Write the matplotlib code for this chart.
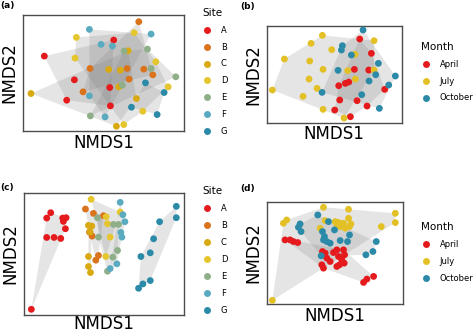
import matplotlib
matplotlib.use("Agg")
import matplotlib.pyplot as plt
from matplotlib.patches import Polygon
from matplotlib.lines import Line2D

# NMDS scores (arbitrary units)
site_a = {
    "A": [(1.34, -1.68), (2.24, -2.39), (2.01, -3.00), (3.42, -1.20), (3.30, -2.62), (3.32, -3.17)],
    "B": [(4.17, -0.65), (2.71, -2.05), (2.50, -2.75), (3.82, -2.05), (4.32, -2.07), (4.59, -2.24), (3.88, -2.37)],
    "C": [(0.94, -2.80), (3.27, -2.08), (3.62, -2.10), (3.57, -2.60), (4.10, -2.95), (3.50, -3.78), (3.85, -1.52)],
    "D": [(2.30, -1.12), (2.26, -1.74), (4.03, -0.98), (4.68, -1.85), (5.05, -2.60), (4.29, -3.33), (3.72, -3.73)],
    "E": [(2.72, -3.47), (3.73, -1.53), (4.43, -1.47), (4.54, -2.05), (5.28, -2.30), (3.68, -2.55)],
    "F": [(2.69, -0.88), (3.04, -1.33), (3.38, -1.38), (4.54, -1.02), (2.69, -2.87), (3.16, -3.50)],
    "G": [(4.37, -2.48), (4.93, -2.77), (3.95, -3.21), (4.72, -3.43)],
}

month_b = {
    "April": [(2.84, -0.51), (3.19, -0.94), (2.68, -1.42), (3.11, -1.44), (2.21, -1.91), (2.41, -1.84),
              (2.51, -1.80), (3.59, -2.02), (2.24, -2.34), (2.76, -2.36), (3.06, -2.52), (2.09, -2.64),
              (2.56, -2.84)],
    "July": [(1.72, -0.40), (1.38, -0.64), (0.58, -1.11), (2.00, -0.83), (1.34, -1.17), (1.74, -1.42),
             (1.32, -1.71), (0.22, -2.04), (1.14, -2.23), (1.56, -1.99), (1.74, -2.62), (2.37, -2.88),
             (3.27, -0.56), (2.70, -0.97), (2.48, -1.46), (2.71, -1.71), (3.27, -1.44)],
    "October": [(2.94, -0.24), (2.32, -0.71), (2.29, -0.84), (2.59, -0.99), (2.19, -1.45), (3.40, -1.24),
                (3.32, -1.58), (3.12, -1.77), (3.91, -1.62), (3.71, -1.89), (2.90, -2.18), (1.71, -2.11),
                (3.43, -2.59)],
}

site_c = {
    "A": [(1.40, -1.53), (1.52, -1.37), (1.88, -1.53), (1.98, -1.52), (1.90, -1.63), (1.96, -1.85),
          (1.40, -2.11), (1.62, -2.11), (1.82, -2.14), (0.94, -4.26)],
    "B": [(2.56, -1.26), (2.80, -1.39), (3.10, -1.46), (2.68, -1.95), (2.76, -2.07), (2.95, -2.65),
          (2.87, -2.79)],
    "C": [(2.65, -1.75), (2.70, -1.95), (2.65, -2.68), (2.65, -2.98), (2.71, -3.16), (2.75, -1.77)],
    "D": [(2.73, -0.97), (3.18, -1.49), (3.22, -1.70), (3.30, -2.10), (3.17, -2.68), (3.60, -1.35)],
    "E": [(2.92, -1.52), (3.40, -1.72), (3.55, -1.72), (2.95, -2.10), (3.52, -2.50), (3.38, -2.70),
          (3.22, -3.12)],
    "F": [(3.60, -1.06), (3.68, -1.43), (3.74, -1.64), (3.62, -1.96), (3.65, -2.10), (3.50, -2.90),
          (3.30, -3.04)],
    "G": [(5.28, -1.18), (5.28, -1.52), (4.78, -1.64), (4.60, -2.15), (4.50, -2.57), (4.22, -2.68),
          (4.50, -3.40), (4.28, -3.50), (4.15, -3.63)],
}

month_d = {
    "April": [(1.44, -2.19), (1.59, -2.19), (1.69, -2.24), (1.82, -2.27), (2.56, -2.54), (2.64, -2.59),
              (2.99, -2.49), (3.19, -2.49), (2.89, -2.57), (2.69, -2.74), (2.79, -2.84), (2.54, -2.94),
              (2.59, -3.04), (3.04, -2.69), (3.14, -2.79), (3.21, -2.89), (2.99, -2.99), (3.07, -2.94),
              (3.22, -2.64), (4.09, -3.29), (3.89, -3.37), (3.79, -3.47)],
    "July": [(2.59, -1.21), (3.34, -1.27), (4.74, -1.39), (4.74, -1.67), (4.32, -1.79), (1.49, -1.59),
             (1.39, -1.69), (2.64, -1.61), (2.49, -1.84), (2.94, -1.64), (3.04, -1.67), (3.14, -1.71),
             (3.34, -1.54), (3.41, -1.71), (3.37, -1.79), (3.19, -1.69), (3.09, -1.79), (3.24, -1.84),
             (2.99, -1.74), (1.06, -4.01)],
    "October": [(2.42, -1.44), (1.89, -1.71), (1.84, -1.81), (1.92, -1.94), (2.74, -1.64), (2.56, -1.94),
                (2.62, -2.09), (2.59, -2.19), (2.69, -2.24), (2.79, -2.29), (2.92, -1.89), (3.09, -2.21),
                (3.37, -2.04), (3.31, -2.24), (2.52, -2.67), (4.17, -2.24), (4.07, -2.54), (3.86, -2.64)],
}

site_colors = {"A": "#e41a1c", "B": "#d9731c", "C": "#d9a912", "D": "#e6c62e",
               "E": "#8faf88", "F": "#5aabc0", "G": "#2b8aa8"}
month_colors = {"April": "#e41a1c", "July": "#e3c126", "October": "#2b8aa8"}


def convex_hull(points):
    pts = sorted(set(points))
    if len(pts) < 3:
        return pts

    def cross(o, a, b):
        return (a[0] - o[0]) * (b[1] - o[1]) - (a[1] - o[1]) * (b[0] - o[0])

    lower = []
    for p in pts:
        while len(lower) >= 2 and cross(lower[-2], lower[-1], p) <= 0:
            lower.pop()
        lower.append(p)
    upper = []
    for p in reversed(pts):
        while len(upper) >= 2 and cross(upper[-2], upper[-1], p) <= 0:
            upper.pop()
        upper.append(p)
    return lower[:-1] + upper[:-1]


def draw_panel(rect, groups, colors, limits, tag, tag_pos, title, legend_anchor, xpad=2):
    ax = fig.add_axes(rect)
    for name, pts in groups.items():
        hull = convex_hull(pts)
        ax.add_patch(Polygon(hull, closed=True, facecolor="#7f7f7f", alpha=0.2,
                             edgecolor="none", zorder=1))
    for name, pts in groups.items():
        xs = [p[0] for p in pts]
        ys = [p[1] for p in pts]
        ax.scatter(xs, ys, s=24, color=colors[name], edgecolors="none", zorder=3)

    ax.set_xlim(limits[0], limits[1])
    ax.set_ylim(limits[2], limits[3])
    ax.set_xticks([])
    ax.set_yticks([])
    for sp in ax.spines.values():
        sp.set_color("#4d4d4d")
        sp.set_linewidth(1.0)
    ax.set_xlabel("NMDS1", fontsize=12, labelpad=xpad)
    ax.set_ylabel("NMDS2", fontsize=12, labelpad=3)

    fig.text(tag_pos[0], tag_pos[1], tag, fontsize=6.5, fontweight="bold", va="top")

    handles = [Line2D([], [], marker="o", linestyle="none", markersize=5,
                      markerfacecolor=colors[n], markeredgecolor="none", label=n)
               for n in groups]
    leg = fig.legend(handles=handles, title=title, loc="upper left", bbox_to_anchor=legend_anchor,
                     frameon=False, fontsize=6, title_fontsize=7.5, labelspacing=0.95,
                     handletextpad=1.0, handlelength=1.2, borderaxespad=0)
    leg._legend_box.align = "left"
    return ax


fig = plt.figure(figsize=(4.74, 3.34), dpi=100)

draw_panel([0.0485, 0.608, 0.340, 0.347], site_a, site_colors, (0.70, 5.53, -3.92, -0.45),
           "(a)", (0.0, 0.997), "Site", (0.420, 0.987))
draw_panel([0.5627, 0.6326, 0.2848, 0.2895], month_b, month_colors, (0.05, 4.10, -3.02, -0.12),
           "(b)", (0.507, 0.995), "Month", (0.882, 0.885))
draw_panel([0.0506, 0.0569, 0.3376, 0.3653], site_c, site_colors, (0.72, 5.51, -4.43, -0.78),
           "(c)", (0.0, 0.452), "Site", (0.420, 0.452), xpad=0)
draw_panel([0.5633, 0.0898, 0.2869, 0.3054], month_d, month_colors, (0.90, 4.97, -4.12, -1.05),
           "(d)", (0.507, 0.45), "Month", (0.882, 0.345))

fig.savefig("out.png", dpi=100)
